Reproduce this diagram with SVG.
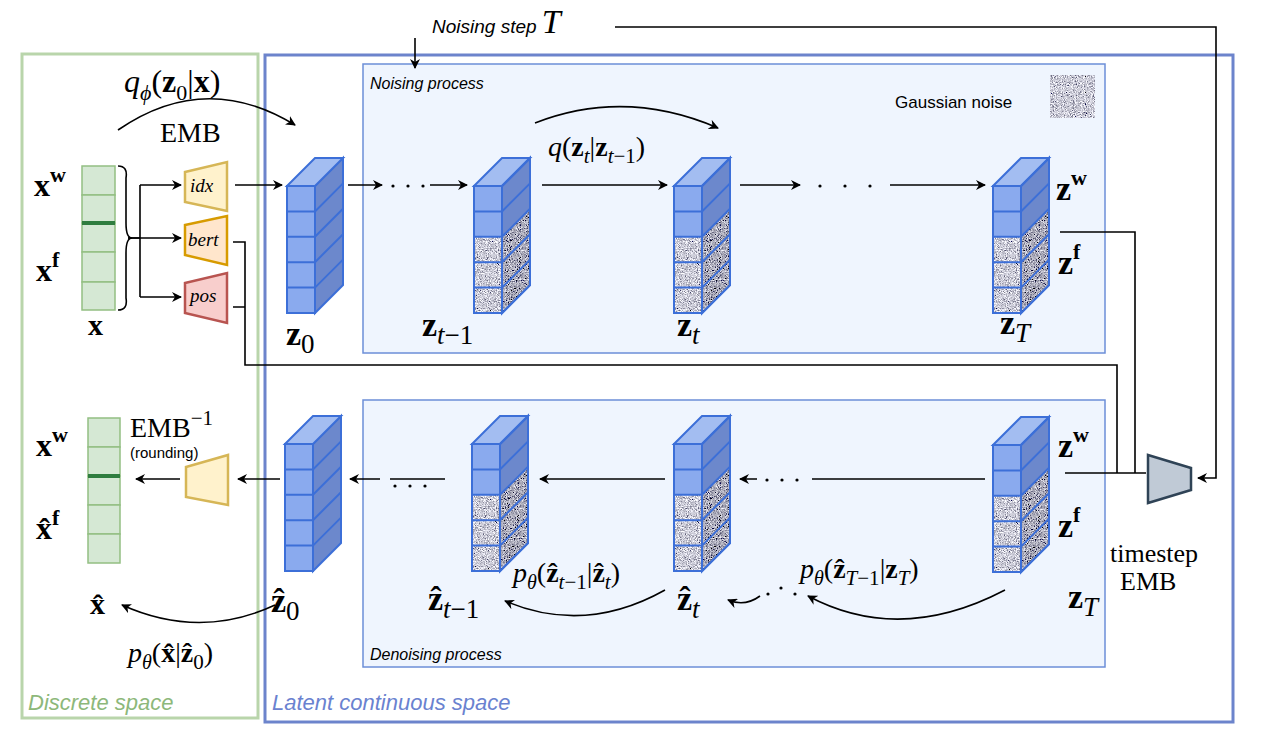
<svg xmlns="http://www.w3.org/2000/svg" xmlns:xlink="http://www.w3.org/1999/xlink" width="1266" height="745" viewBox="0 0 1266 745">
<style>
.m{font-family:"Liberation Serif","DejaVu Serif",serif;fill:#000}
.b{font-weight:bold}
.i{font-style:italic}
.s{font-family:"Liberation Sans",Arial,sans-serif}
.ln{fill:none;stroke:#000;stroke-width:1.6}
.ar{fill:none;stroke:#000;stroke-width:1.6;marker-end:url(#ah)}
.fr{fill:#8aaaee;stroke:#3c6fd8;stroke-width:2}
.sd{fill:#6c88cc;stroke:#3c6fd8;stroke-width:2}
.tp{fill:#a3bdf1;stroke:#3c6fd8;stroke-width:2}
.cell{fill:#d5e8d4;stroke:#93bf82;stroke-width:1.5}
</style>
<defs>
<marker id="ah" viewBox="0 0 10 10" refX="9" refY="5" markerWidth="10" markerHeight="10" orient="auto" markerUnits="userSpaceOnUse"><path d="M0,0 L10,5 L0,10 L3,5 z" fill="#000"/></marker>
<filter id="nz" x="0" y="0" width="1" height="1">
<feTurbulence type="fractalNoise" baseFrequency="1.1" numOctaves="2" seed="3" result="t"/>
<feColorMatrix in="t" type="matrix" values="1.3 1.3 0 0 -0.7  1.3 1.3 0 0 -0.7  1.3 1.3 0 0 -0.62  0 0 0 0 1" result="g"/>
<feComposite in="g" in2="SourceGraphic" operator="in"/>
</filter>
<filter id="nzd" x="0" y="0" width="1" height="1">
<feTurbulence type="fractalNoise" baseFrequency="1.1" numOctaves="2" seed="7" result="t"/>
<feColorMatrix in="t" type="matrix" values="1.3 1.3 0 0 -0.9  1.3 1.3 0 0 -0.9  1.3 1.3 0 0 -0.82  0 0 0 0 1" result="g"/>
<feComposite in="g" in2="SourceGraphic" operator="in"/>
</filter>
<g id="cube">
<polygon class="sd" points="28,0 56,-28 56,99 28,127"/>
<polygon class="tp" points="0,0 28,-28 56,-28 28,0"/>
<rect class="fr" x="0" y="0" width="28" height="127"/>
<path d="M0,25.4H28L56,-2.6M0,50.8H28L56,22.8M0,76.2H28L56,48.2M0,101.6H28L56,73.6" fill="none" stroke="#3c6fd8" stroke-width="2"/>
</g>
<g id="ncube">
<polygon class="sd" points="28,0 56,-28 56,99 28,127"/>
<polygon points="28,50.8 56,22.8 56,99 28,127" fill="#777" filter="url(#nzd)"/>
<polygon class="tp" points="0,0 28,-28 56,-28 28,0"/>
<rect class="fr" x="0" y="0" width="28" height="127"/>
<rect x="0" y="50.8" width="28" height="76.2" fill="#999" filter="url(#nz)"/>
<rect x="0" y="0" width="28" height="127" fill="none" stroke="#3c6fd8" stroke-width="2"/>
<polygon points="28,0 56,-28 56,99 28,127" fill="none" stroke="#3c6fd8" stroke-width="2"/>
<path d="M0,25.4H28L56,-2.6M0,50.8H28L56,22.8M0,76.2H28L56,48.2M0,101.6H28L56,73.6" fill="none" stroke="#3c6fd8" stroke-width="2"/>
</g>
</defs>
<rect width="1266" height="745" fill="#fff"/>

<g id="discrete-space">
<rect x="22" y="54" width="236" height="664" fill="none" stroke="#b9d5ab" stroke-width="3"/>
<text x="28" y="710" class="s i" font-size="22" fill="#8db87a">Discrete space</text>
</g>
<g id="latent-space">
<rect x="265" y="55" width="968" height="667" fill="none" stroke="#6c84cc" stroke-width="3"/>
<text x="272" y="710" class="s i" font-size="22" fill="#6a82d0">Latent continuous space</text>
</g>
<g id="noising-panel">
<rect x="363" y="64" width="742" height="289" fill="#eff5fe" stroke="#6c8ed8" stroke-width="1.5"/>
<text x="370" y="89" class="s i" font-size="16">Noising process</text>
<text x="895" y="108" class="s" font-size="17">Gaussian noise</text>
<rect x="1050" y="75" width="45" height="43" fill="#999" filter="url(#nz)"/>
</g>
<g id="denoising-panel">
<rect x="363" y="400" width="742" height="267" fill="#eff5fe" stroke="#6c8ed8" stroke-width="1.5"/>
<text x="370" y="660" class="s i" font-size="16">Denoising process</text>
</g>

<g id="noising-step">
<text x="432" y="33" class="s i" font-size="19">Noising step <tspan font-family="Liberation Serif, serif" font-size="34">T</tspan></text>
</g>

<g id="x-vector">
<rect class="cell" x="82" y="166" width="33" height="29"/>
<rect class="cell" x="82" y="195" width="33" height="28"/>
<rect class="cell" x="82" y="223" width="33" height="29"/>
<rect class="cell" x="82" y="252" width="33" height="30"/>
<rect class="cell" x="82" y="282" width="33" height="28"/>
<rect x="82" y="221" width="33" height="4" fill="#2f7d3f"/>
<text x="34" y="196" class="m b" font-size="32">x<tspan font-size="22" dy="-14">w</tspan></text>
<text x="36" y="281" class="m b" font-size="32">x<tspan font-size="22" dy="-14">f</tspan></text>
<text x="88" y="335" class="m b" font-size="30">x</text>
<path d="M118,166 q10,0 8,12 v45 q0,15 6,15 q-6,0 -6,15 v45 q2,12 -8,12" class="ln" stroke-width="1.4"/>
</g>
<g id="emb-idx">
<polygon points="185,172 227,162 227,211 185,202" fill="#fff2cc" stroke="#d6b656" stroke-width="2.5"/>
<text x="190" y="192" class="m i" font-size="19">idx</text>
</g>
<g id="emb-bert">
<polygon points="185,225 227,216 227,265 185,255" fill="#ffe6cc" stroke="#d79b00" stroke-width="2.5"/>
<text x="188" y="246" class="m i" font-size="19">bert</text>
</g>
<g id="emb-pos">
<polygon points="185,283 227,273 227,323 185,313" fill="#f8cecc" stroke="#b85450" stroke-width="2.5"/>
<text x="190" y="302" class="m i" font-size="19">pos</text>
</g>
<text x="160" y="142" class="m" font-size="28">EMB</text>
<text x="124" y="92" class="m i" font-size="32">q<tspan font-size="22" dy="8">ϕ</tspan><tspan dy="-8" font-style="normal">(</tspan><tspan class="b" font-style="normal">z</tspan><tspan font-size="22" dy="8" font-style="normal">0</tspan><tspan dy="-8" font-style="normal">|</tspan><tspan class="b" font-style="normal">x</tspan><tspan font-style="normal">)</tspan></text>

<g id="z0"><use href="#cube" x="287" y="186"/><text x="286" y="345" class="m b" font-size="34">z<tspan font-size="27" font-weight="normal" dy="8">0</tspan></text></g>
<g id="zt-1"><use href="#ncube" x="474" y="186"/><text x="422" y="336" class="m b" font-size="34">z<tspan font-size="27" font-weight="normal" font-style="italic" dy="8">t</tspan><tspan font-size="27" font-weight="normal">−1</tspan></text></g>
<g id="zt"><use href="#ncube" x="674" y="186"/><text x="677" y="336" class="m b" font-size="34">z<tspan font-size="27" font-weight="normal" font-style="italic" dy="8">t</tspan></text></g>
<g id="zT"><use href="#ncube" x="993" y="186"/><text x="1000" y="334" class="m b" font-size="34">z<tspan font-size="27" font-weight="normal" font-style="italic" dy="8">T</tspan></text>
<text x="1056" y="200" class="m b" font-size="34">z<tspan font-size="22" dy="-15">w</tspan></text>
<text x="1058" y="274" class="m b" font-size="34">z<tspan font-size="22" dy="-15">f</tspan></text></g>
<text x="548" y="156" class="m i" font-size="28">q<tspan font-style="normal">(</tspan><tspan class="b" font-style="normal">z</tspan><tspan font-size="21" dy="7">t</tspan><tspan dy="-7" font-style="normal">|</tspan><tspan class="b" font-style="normal">z</tspan><tspan font-size="21" dy="7">t</tspan><tspan font-size="21" font-style="normal">−1</tspan><tspan dy="-7" font-style="normal">)</tspan></text>

<g id="z0hat"><use href="#cube" x="285" y="444"/><text x="271" y="612" class="m b" font-size="34">ẑ<tspan font-size="27" font-weight="normal" dy="8">0</tspan></text></g>
<g id="zt-1hat"><use href="#ncube" x="472" y="444"/><text x="428" y="610" class="m b" font-size="34">ẑ<tspan font-size="27" font-weight="normal" font-style="italic" dy="8">t</tspan><tspan font-size="27" font-weight="normal">−1</tspan></text></g>
<g id="zthat"><use href="#ncube" x="674" y="444"/><text x="677" y="610" class="m b" font-size="34">ẑ<tspan font-size="27" font-weight="normal" font-style="italic" dy="8">t</tspan></text></g>
<g id="zT2"><use href="#ncube" x="993" y="445"/><text x="1068" y="608" class="m b" font-size="34">z<tspan font-size="27" font-weight="normal" font-style="italic" dy="8">T</tspan></text>
<text x="1058" y="457" class="m b" font-size="34">z<tspan font-size="22" dy="-15">w</tspan></text>
<text x="1058" y="537" class="m b" font-size="34">z<tspan font-size="22" dy="-15">f</tspan></text></g>

<g id="emb-inv">
<polygon points="186,467 228,455 228,505 186,497" fill="#fff2cc" stroke="#d6b656" stroke-width="2.5"/>
<text x="130" y="437" class="m" font-size="28">EMB<tspan font-size="21" dy="-12">−1</tspan></text>
<text x="130" y="458" class="s" font-size="15">(rounding)</text>
</g>
<g id="xhat-vector">
<rect class="cell" x="88" y="418" width="32" height="29"/>
<rect class="cell" x="88" y="447" width="32" height="29"/>
<rect class="cell" x="88" y="476" width="32" height="29"/>
<rect class="cell" x="88" y="505" width="32" height="29"/>
<rect class="cell" x="88" y="534" width="32" height="29"/>
<rect x="88" y="474" width="32" height="4" fill="#2f7d3f"/>
<text x="36" y="456" class="m b" font-size="32">x<tspan font-size="22" dy="-14">w</tspan></text>
<text x="36" y="539" class="m b" font-size="32">x̂<tspan font-size="22" dy="-14">f</tspan></text>
<text x="90" y="614" class="m b" font-size="30">x̂</text>
</g>
<g id="timestep-emb">
<polygon points="1148,455 1191,468 1191,490 1148,503" fill="#c0cad6" stroke="#2f4356" stroke-width="2.5"/>
<text x="1110" y="562" class="m" font-size="26">timestep</text>
<text x="1120" y="590" class="m" font-size="26">EMB</text>
</g>

<text x="513" y="582" class="m i" font-size="28">p<tspan font-size="20" dy="7">θ</tspan><tspan dy="-7" font-style="normal">(</tspan><tspan class="b" font-style="normal">ẑ</tspan><tspan font-size="21" dy="7">t</tspan><tspan font-size="21" font-style="normal">−1</tspan><tspan dy="-7" font-style="normal">|</tspan><tspan class="b" font-style="normal">ẑ</tspan><tspan font-size="21" dy="7">t</tspan><tspan dy="-7" font-style="normal">)</tspan></text>
<text x="800" y="578" class="m i" font-size="28">p<tspan font-size="20" dy="7">θ</tspan><tspan dy="-7" font-style="normal">(</tspan><tspan class="b" font-style="normal">ẑ</tspan><tspan font-size="21" dy="7">T</tspan><tspan font-size="21" font-style="normal">−1</tspan><tspan dy="-7" font-style="normal">|</tspan><tspan class="b" font-style="normal">z</tspan><tspan font-size="21" dy="7">T</tspan><tspan dy="-7" font-style="normal">)</tspan></text>
<text x="128" y="662" class="m i" font-size="28">p<tspan font-size="20" dy="7">θ</tspan><tspan dy="-7" font-style="normal">(</tspan><tspan class="b" font-style="normal">x̂</tspan><tspan font-style="normal">|</tspan><tspan class="b" font-style="normal">ẑ</tspan><tspan font-size="21" dy="7" font-style="normal">0</tspan><tspan dy="-7" font-style="normal">)</tspan></text>

<g id="connectors">
<path class="ar" d="M615,27 H1216 V478 H1198"/>
<path class="ar" d="M415,38 V68"/>
<path class="ar" d="M118,130 Q205,70 295,125"/>
<path class="ar" d="M535,123 Q625,88 718,128"/>
<path class="ln" d="M128,238 H140 M140,185 V297"/>
<path class="ar" d="M140,185 H181"/>
<path class="ar" d="M128,238 H181"/>
<path class="ar" d="M140,297 H181"/>
<path class="ar" d="M235,185 H282"/>
<path class="ln" d="M233,242 H245 V365 H1117 V473 M233,307 H245"/>
<path class="ln" d="M1060,232 H1135 V473 M1065,473 H1146"/>
<path class="ar" d="M348,185 H382"/>
<path class="ar" d="M430,185 H467"/>
<path class="ar" d="M542,185 H667"/>
<path class="ar" d="M740,185 H800"/>
<path class="ar" d="M890,185 H985"/>
<path class="ar" d="M985,479 H812 M757,479 H740"/>
<path class="ar" d="M665,479 H540"/>
<path class="ar" d="M445,479 H390 M380,479 H350"/>
<path class="ar" d="M280,479 H238"/>
<path class="ar" d="M180,479 H136"/>
<path class="ar" d="M1005,590 Q900,645 808,596"/>
<path class="ar" d="M760,596 Q745,607 728,600"/>
<path class="ar" d="M665,590 Q585,635 505,601"/>
<path class="ar" d="M275,605 Q200,640 122,605"/>
<g fill="#000"><circle cx="393" cy="186" r="1.6"/><circle cx="408" cy="186" r="1.6"/><circle cx="423" cy="186" r="1.6"/>
<circle cx="820" cy="186" r="1.6"/><circle cx="845" cy="186" r="1.6"/><circle cx="870" cy="186" r="1.6"/>
<circle cx="767" cy="480" r="1.6"/><circle cx="782" cy="480" r="1.6"/><circle cx="797" cy="480" r="1.6"/>
<circle cx="395" cy="486" r="1.6"/><circle cx="410" cy="486" r="1.6"/><circle cx="425" cy="486" r="1.6"/>
<circle cx="768" cy="594" r="1.6"/><circle cx="781" cy="588" r="1.6"/><circle cx="795" cy="594" r="1.6"/></g>
</g>
</svg>
